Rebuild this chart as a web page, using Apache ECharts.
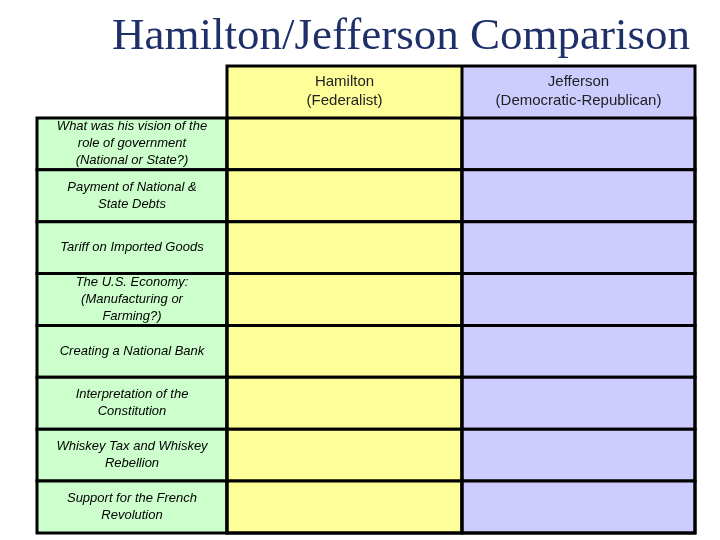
<!DOCTYPE html>
<html><head><meta charset="utf-8">
<script src="https://cdn.jsdelivr.net/npm/echarts@6/dist/echarts.min.js"></script>
<style>html,body{margin:0;padding:0;background:#fff}#c{width:720px;height:540px}</style>
</head><body><div id="c"></div>
<script>
const title = 'Hamilton/Jefferson Comparison';
const columns = ['', 'Hamilton\n(Federalist)', 'Jefferson\n(Democratic-Republican)'];
const questions = [
  'What was his vision of the\nrole of government\n(National or State?)',
  'Payment of National &\nState Debts',
  'Tariff on Imported Goods',
  'The U.S. Economy:\n(Manufacturing or\nFarming?)',
  'Creating a National Bank',
  'Interpretation of the\nConstitution',
  'Whiskey Tax and Whiskey\nRebellion',
  'Support for the French\nRevolution'
];
const rows = ['header'].concat(questions);
const colFills = ['#ccffcc', '#ffff99', '#ccccff'];
const colEdges = [0, 190, 425, 658];

const data = [];
rows.forEach((r, ri) => {
  for (let ci = 0; ci < 3; ci++) {
    if (ri === 0 && ci === 0) continue;
    const text = ri === 0 ? columns[ci] : (ci === 0 ? questions[ri - 1] : '');
    data.push([ci, ri, text]);
  }
});

const chart = echarts.init(document.getElementById('c'));
chart.setOption({
  title: { text: title, left: 396, top: 10, textAlign: 'center',
    textStyle: { fontFamily: 'Liberation Serif', fontWeight: 'normal', fontSize: 45, color: '#1f2f6a' } },
  grid: { left: 37, right: 25, top: 66, bottom: 7 },
  xAxis: { type: 'value', min: 0, max: 658, show: false },
  yAxis: { type: 'category', data: rows, inverse: true, show: false },
  series: [{
    type: 'custom',
    data: data,
    renderItem: function (params, api) {
      const ci = api.value(0), ri = api.value(1);
      const x0 = api.coord([colEdges[ci], ri])[0];
      const x1 = api.coord([colEdges[ci + 1], ri])[0];
      const yc = api.coord([0, ri])[1];
      const h = api.size([0, 1])[1];
      const header = ri === 0;
      return {
        type: 'rect',
        shape: { x: x0, y: yc - h / 2, width: x1 - x0, height: h },
        style: { fill: colFills[ci], stroke: header ? null : '#000', lineWidth: 3 },
        textContent: { style: { text: api.value(2),
          fontFamily: 'Liberation Sans', fontSize: header ? 15 : 13,
          fontStyle: header ? 'normal' : 'italic', fill: header ? '#222' : '#000', align: 'center',
          lineHeight: header ? 19 : 17 } },
        textConfig: { position: header ? 'insideTop' : 'inside', distance: header ? 6 : 0 }
      };
    }
  }, {
    type: 'custom',
    data: [0],
    renderItem: function (params, api) {
      const y0 = api.coord([0, 0])[1] - api.size([0, 1])[1] / 2;
      const y1 = api.coord([0, 8])[1] + api.size([0, 1])[1] / 2;
      const x0 = api.coord([colEdges[1], 0])[0];
      const x1 = api.coord([colEdges[3], 0])[0];
      const xm = api.coord([colEdges[2], 0])[0];
      return { type: 'group', children: [
        { type: 'rect', shape: { x: x0, y: y0, width: x1 - x0, height: y1 - y0 }, style: { fill: null, stroke: '#000', lineWidth: 3 } },
        { type: 'line', shape: { x1: xm, y1: y0, x2: xm, y2: y1 }, style: { stroke: '#000', lineWidth: 3 } }
      ]};
    }
  }]
});
</script></body></html>
